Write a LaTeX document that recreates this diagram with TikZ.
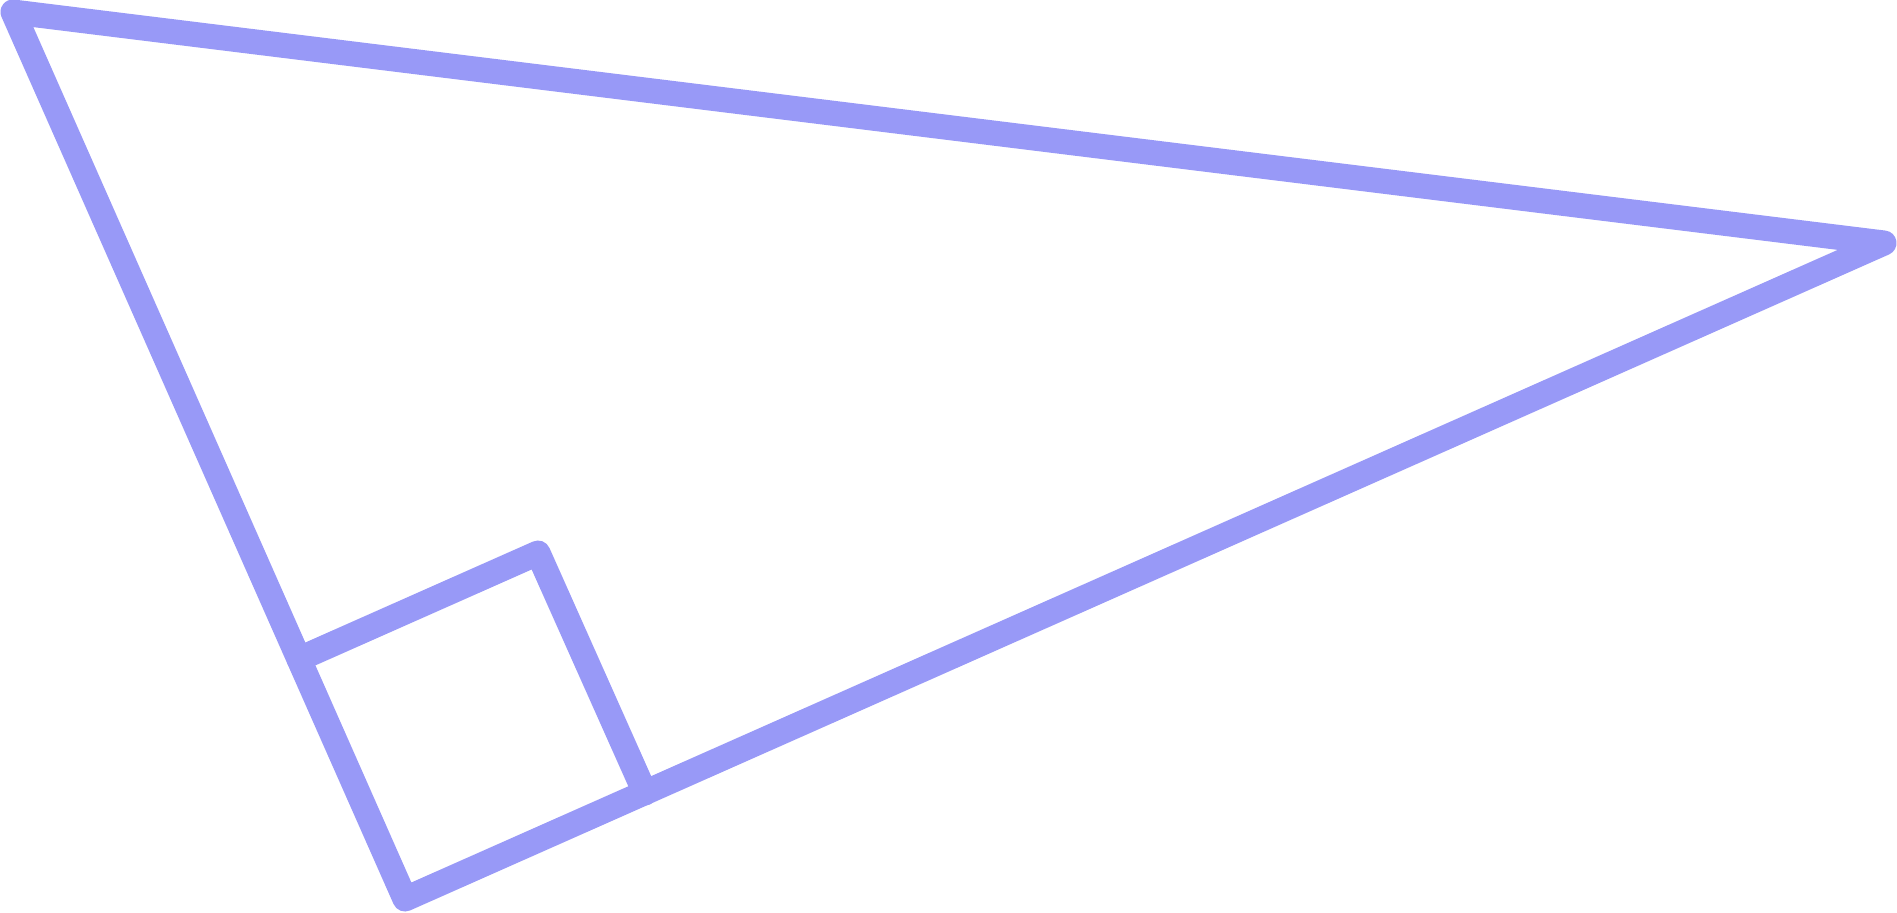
\documentclass[tikz,border=0pt]{standalone}
\usepackage{tikz}
\usetikzlibrary{positioning}
\definecolor{lilac}{RGB}{152,153,247}
\tikzset{side/.style={draw=lilac, line width=0.25cm, line join=round, line cap=round}}

\begin{document}
\begin{tikzpicture}[x=0.01cm,y=-0.01cm]
    \useasboundingbox (0,0) rectangle (1897,912);
    \coordinate (A) at (13,12);
    \coordinate (B) at (1884,243);
    \coordinate (C) at (405,899);
    \coordinate (D) at (299,659);
    \coordinate (E) at (538,553);
    \coordinate (F) at (645,793);
    
    
    \draw [side] (A) -- (B) -- (C) -- cycle;
    \draw [side] (D) -- (E) -- (F);
\end{tikzpicture}
\end{document}
